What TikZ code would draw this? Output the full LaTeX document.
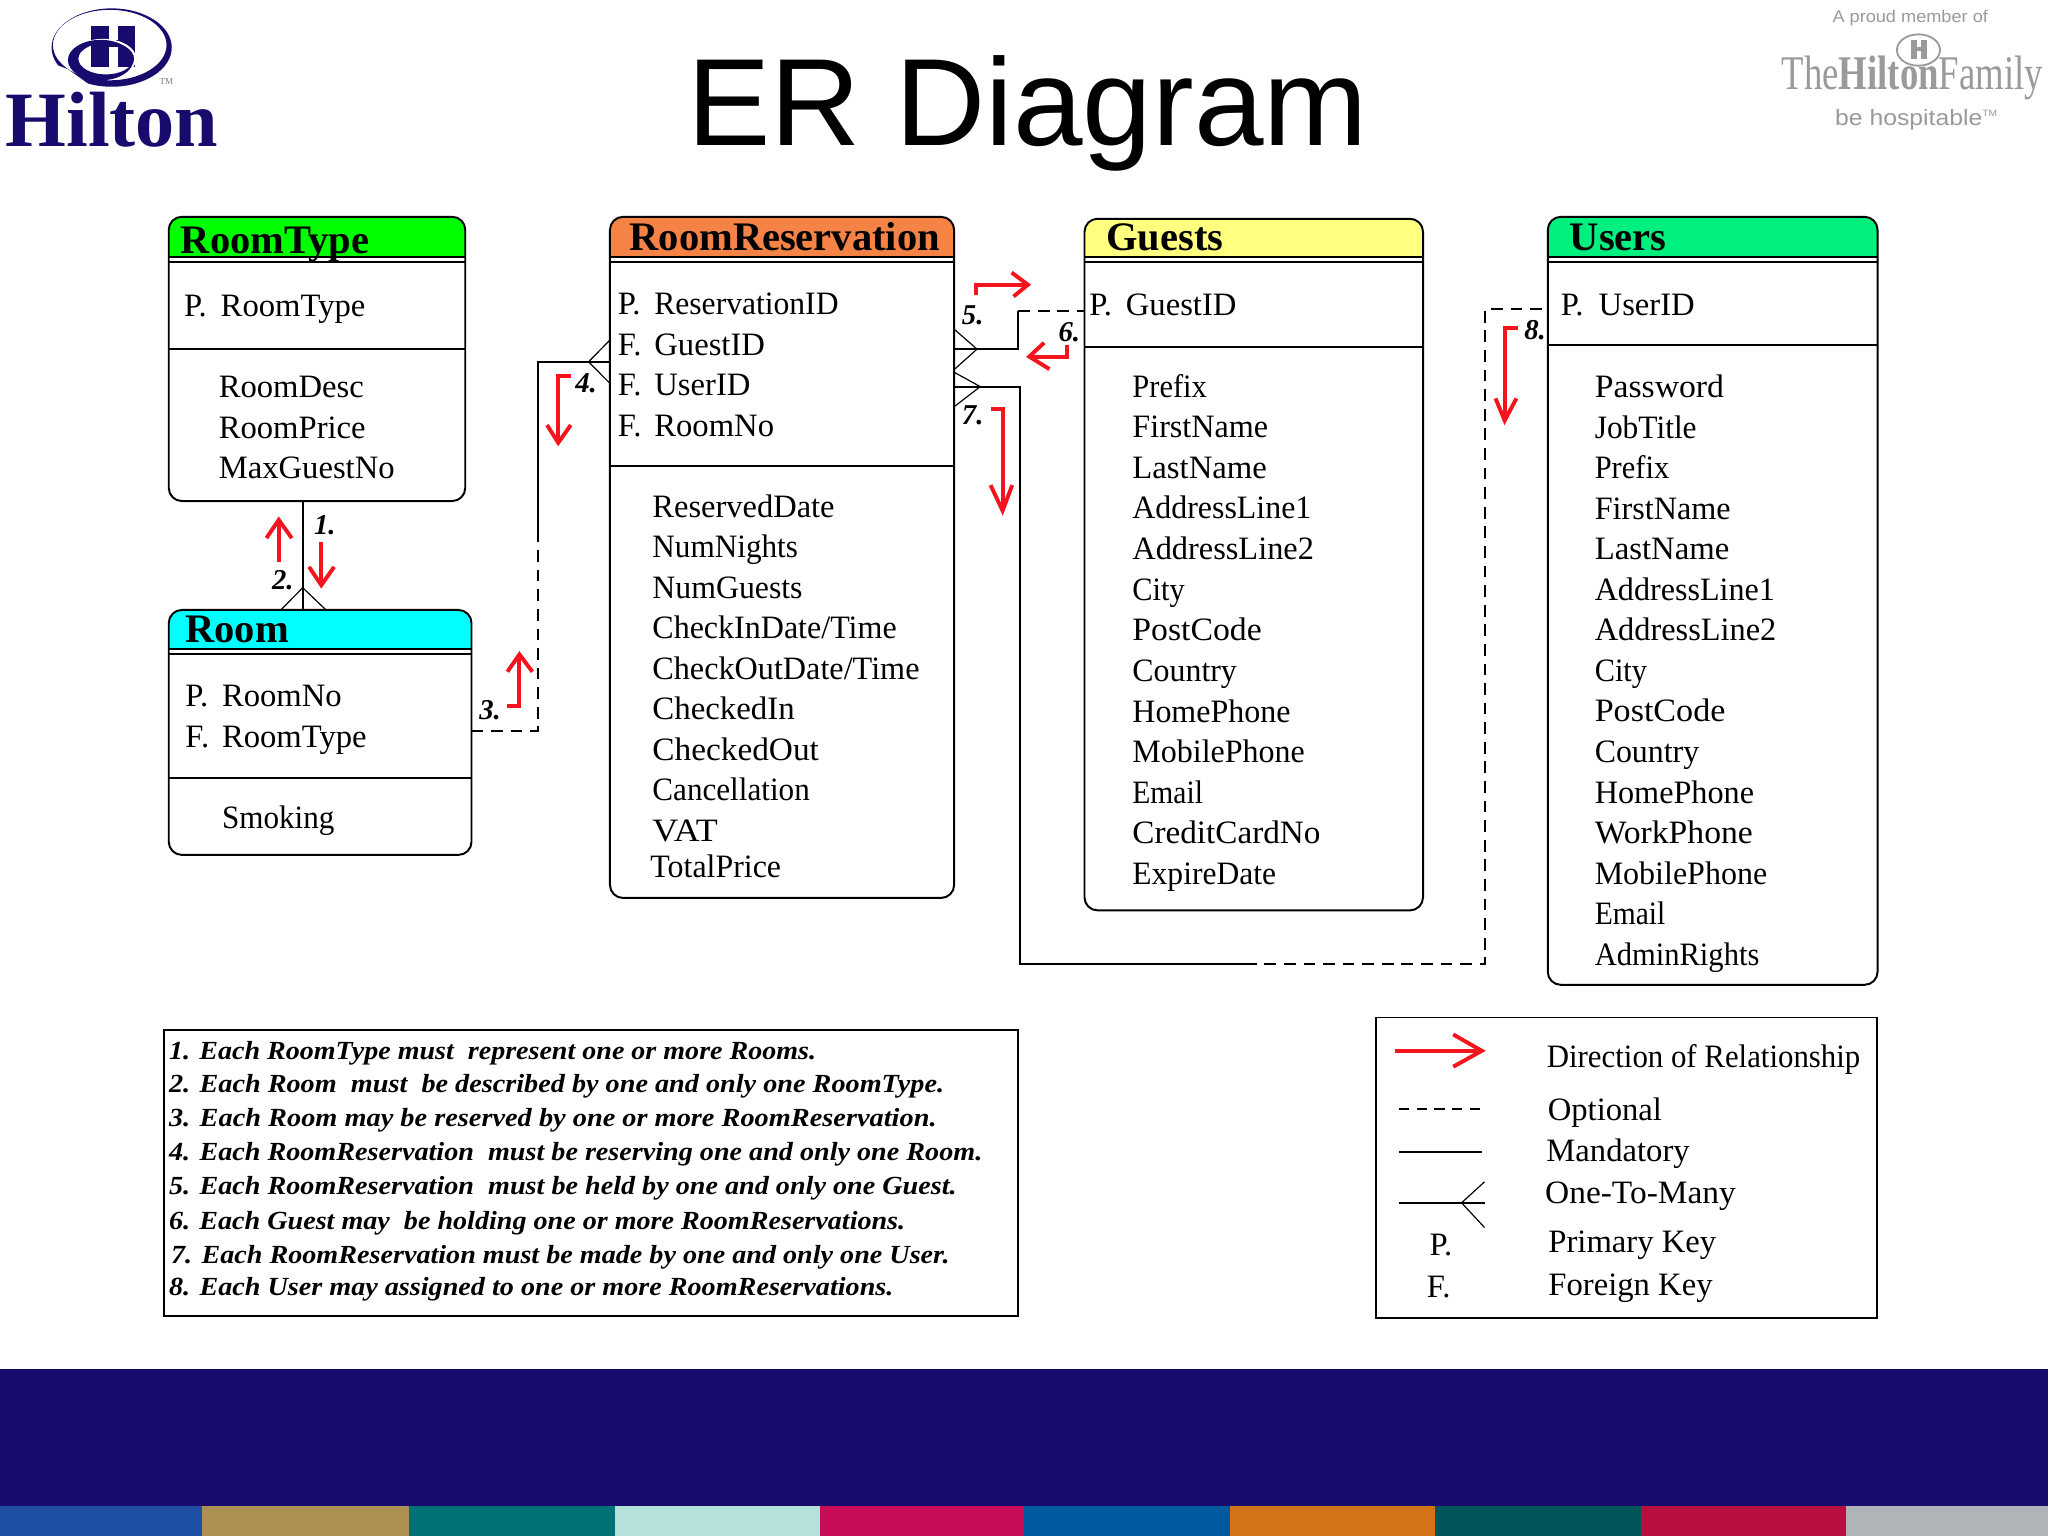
\documentclass[tikz,border=0pt]{standalone}
\usepackage{fontspec}
\usepackage{graphicx}
\setmainfont{Liberation Serif}
\newfontfamily\hsans{Liberation Sans}
\definecolor{navy}{HTML}{170B6E}
\definecolor{hgreen}{HTML}{00FF00}
\definecolor{horange}{HTML}{F58345}
\definecolor{hcyan}{HTML}{00FFFF}
\definecolor{hyellow}{HTML}{FFFF80}
\definecolor{hmint}{HTML}{00F080}
\definecolor{rred}{HTML}{F5141E}
\definecolor{lgray}{HTML}{9A9A9A}
\tikzset{
  attr/.style={anchor=base west,inner sep=0pt,outer sep=0pt,font=\fontsize{25}{25}\selectfont},
  hdr/.style={anchor=base west,inner sep=0pt,outer sep=0pt,font=\fontsize{31}{31}\selectfont\bfseries},
  numlab/.style={anchor=base west,inner sep=0pt,outer sep=0pt,font=\fontsize{22}{22}\selectfont\bfseries\itshape},
  ruletext/.style={anchor=base west,inner sep=0pt,outer sep=0pt,font=\fontsize{20}{20}\selectfont\bfseries\itshape},
  entitybox/.style={draw=black,line width=1.5pt,rounded corners=10pt,inner sep=0pt,outer sep=0pt},
  plainbox/.style={draw=black,line width=1.5pt,inner sep=0pt,outer sep=0pt},
  mand/.style={draw=black,line width=1.4pt},
  optl/.style={draw=black,line width=1.4pt,dash pattern=on 9pt off 6pt},
  crowline/.style={draw=black,line width=0.9pt},
  redline/.style={draw=rred,line width=3pt,line join=miter,miter limit=10},
  divider/.style={draw=black,line width=1.5pt},
  grayt/.style={anchor=base west,inner sep=0pt,outer sep=0pt,text=lgray}
}
\newcounter{tn}
\newcommand{\T}[4]{\stepcounter{tn}\node[#1] (t\arabic{tn}) at (#2,#3) {#4};}
% style, x, baseline, width, text
\newcommand{\W}[5]{\stepcounter{tn}\node[#1] (t\arabic{tn}) at (#2,#3) {\resizebox{#4 pt}{\height}{#5}};}
% name,x1,y1,x2,y2,header bottom,colour
\newcommand{\entity}[7]{%
  \begin{scope}
    \clip[rounded corners=10pt] (#2,#3) rectangle (#4,#5);
    \fill[#7] (#2,#3) rectangle (#4,#6);
  \end{scope}
  \node[entitybox,minimum width={#4pt-#2pt},minimum height={#5pt-#3pt}] (#1) at ({(#2+#4)/2},{(#3+#5)/2}) {};
  \draw[divider] (#2,#6) -- (#4,#6);
  \draw[divider] (#2,#6+3.8) -- (#4,#6+3.8);
}
% name, tail-hook, tail, tip, arm1, arm2
\newcommand{\RA}[6]{%
  \coordinate (#1h) at (#2); \coordinate (#1t) at (#3); \coordinate (#1p) at (#4);
  \coordinate (#1a) at (#5); \coordinate (#1b) at (#6);
  \draw[redline] (#1h) -- (#1t) -- (#1p);
  \draw[redline] (#1a) -- (#1p) -- (#1b);
}
\newcommand{\crow}[4]{%
  \coordinate (#1p) at (#2); \coordinate (#1a) at (#3); \coordinate (#1b) at (#4);
  \draw[crowline] (#1a) -- (#1p) -- (#1b);
}
\begin{document}
\begin{tikzpicture}[x=1pt,y=-1pt]
\useasboundingbox (0,0) rectangle (1568,1176);
\fill[white] (0,0) rectangle (1568,1176);
% bottom band
\fill[navy] (0,1048.5) rectangle (1568,1153);
\foreach \a/\b/\c in {0/155/1F4FA3,155/313/AC9052,313/471/007176,471/628/B4E1D9,628/784/C70B57,784/942/00589F,942/1099/D37218,1099/1256/00555A,1256/1413/B90F40,1413/1568/B0B4B9}{
  \definecolor{stripe}{HTML}{\c}
  \fill[stripe] (\a,1153) rectangle (\b,1176);
}
% title
\W{anchor=base west,inner sep=0pt,font=\fontsize{95}{95}\selectfont\hsans}{526}{111.5}{521}{ER Diagram}
% Hilton logo
\fill[navy,even odd rule] (85.5,36.4) ellipse [x radius=46,y radius=30] (84,34.5) ellipse [x radius=43.5,y radius=27];
\fill[white] (44,50) -- (50,66) -- (70,66) -- (52,53) -- cycle;
\fill[navy] (69.7,20) rectangle (83.8,51);
\fill[navy] (90.6,20) rectangle (103.4,51);
\fill[navy] (83,31) rectangle (91,36);
\draw[white,line width=1.6pt] (79,45) ellipse [x radius=24.5,y radius=14.5];
\fill[navy,even odd rule] (77,46) ellipse [x radius=25,y radius=15.5] (81,45) ellipse [x radius=21,y radius=12];
\T{anchor=base west,inner sep=0pt,text=gray,font=\fontsize{7}{7}\selectfont}{122}{65}{TM}
\W{anchor=base west,inner sep=0pt,text=navy,font=\fontsize{60}{60}\selectfont\bfseries}{4}{111.8}{163}{Hilton}
% Hilton Family logo
\W{grayt,font=\fontsize{13}{13}\selectfont\hsans}{1403}{17.4}{119}{A proud member of}
\W{grayt,font=\fontsize{37}{37}\selectfont}{1364.2}{68.4}{200}{The{\bfseries Hilton}Family}
\W{grayt,font=\fontsize{17}{17}\selectfont\hsans}{1405}{96}{124}{be hospitable\raisebox{.4em}{\fontsize{7}{7}\selectfont TM}}
\draw[lgray,line width=1.4pt] (1468.8,38.3) ellipse [x radius=16.5,y radius=12];
\fill[lgray] (1463,31) rectangle (1467.5,45);
\fill[lgray] (1470.5,31) rectangle (1475,45);
\fill[lgray] (1467,36) rectangle (1471,39);
% entities
\entity{rt}{129.2}{166}{356.2}{383.6}{197}{hgreen}
\draw[divider] (rt.west |- 0,267.5) -- (rt.east |- 0,267.5);
\entity{room}{129.2}{467}{361}{654.5}{497}{hcyan}
\draw[divider] (room.west |- 0,596) -- (room.east |- 0,596);
\entity{rr}{467}{166}{730.5}{687.5}{197}{horange}
\draw[divider] (rr.west |- 0,357) -- (rr.east |- 0,357);
\entity{guests}{830.3}{167.5}{1089.5}{697}{197}{hyellow}
\draw[divider] (guests.west |- 0,266) -- (guests.east |- 0,266);
\entity{users}{1185}{166}{1437.5}{754}{197}{hmint}
\draw[divider] (users.west |- 0,264) -- (users.east |- 0,264);
% headers
\T{hdr}{138.5}{194}{RoomType}
\T{hdr}{142}{492}{Room}
\T{hdr}{482}{192}{RoomReservation}
\T{hdr}{847}{192}{Guests}
\T{hdr}{1202}{192}{Users}
% RoomType attributes
\T{attr}{141}{242.5}{P.}\T{attr}{169}{242.5}{RoomType}
\T{attr}{167.5}{304.4}{RoomDesc}
\T{attr}{167.5}{335.6}{RoomPrice}
\T{attr}{167.5}{366.4}{MaxGuestNo}
% Room attributes
\T{attr}{142}{541}{P.}\T{attr}{170}{541}{RoomNo}
\T{attr}{142}{572}{F.}\T{attr}{170}{572}{RoomType}
\W{attr}{170}{634}{86}{Smoking}
% RoomReservation attributes
\T{attr}{473}{241}{P.}\W{attr}{501}{241}{141}{ReservationID}
\T{attr}{473}{272}{F.}\T{attr}{501}{272}{GuestID}
\T{attr}{473}{303}{F.}\T{attr}{501}{303}{UserID}
\T{attr}{473}{334}{F.}\T{attr}{501}{334}{RoomNo}
\W{attr}{499.5}{396}{139.5}{ReservedDate}
\W{attr}{499.5}{427}{111.5}{NumNights}
\W{attr}{499.5}{458}{115}{NumGuests}
\W{attr}{499.5}{489}{187}{CheckInDate/Time}
\W{attr}{499.5}{520}{204.5}{CheckOutDate/Time}
\W{attr}{499.5}{551}{109}{CheckedIn}
\W{attr}{499.5}{582}{127.5}{CheckedOut}
\W{attr}{499.5}{613}{120.5}{Cancellation}
\W{attr}{499.5}{644}{50}{VAT}
\W{attr}{498}{672}{100}{TotalPrice}
% Guests attributes
\T{attr}{834}{241.7}{P.}\T{attr}{862}{241.7}{GuestID}
\foreach \i/\s/\w in {0/Prefix/57,1/FirstName/104,2/LastName/103,3/AddressLine1/137,4/AddressLine2/139,5/City/40,6/PostCode/99,7/Country/80,8/HomePhone/121,9/MobilePhone/132,10/Email/54,11/CreditCardNo/144,12/ExpireDate/110}{
  \pgfmathsetmacro{\yy}{304+31.1*\i}
  \W{attr}{867}{\yy}{\w}{\s}
}
% Users attributes
\T{attr}{1195}{241.7}{P.}\T{attr}{1224}{241.7}{UserID}
\foreach \i/\s/\w in {0/Password/99,1/JobTitle/78,2/Prefix/57,3/FirstName/104,4/LastName/103,5/AddressLine1/138,6/AddressLine2/139,7/City/40,8/PostCode/100,9/Country/80,10/HomePhone/122,11/WorkPhone/121,12/MobilePhone/132,13/Email/54,14/AdminRights/126}{
  \pgfmathsetmacro{\yy}{304.3+31.05*\i}
  \W{attr}{1221}{\yy}{\w}{\s}
}
% connectors 1,2
\coordinate (c12) at (231.8,420);
\draw[mand] (rt.south -| c12) -- (room.north -| c12);
\crow{k12}{231.8,450}{215,467}{249.6,467}
% connectors 3,4
\coordinate (c34a) at (411.7,559.5);
\coordinate (c34s) at (411.7,412);
\coordinate (c34b) at (411.7,277);
\draw[optl] (room.east |- c34a) -- (c34a) -- (c34s);
\draw[mand] (c34s) -- (c34b) -- (rr.west |- c34b);
\crow{k34}{450.6,277}{467,260.3}{467,293.5}
% connectors 5,6
\coordinate (c56a) at (779.6,267.3);
\coordinate (c56b) at (779.6,238);
\draw[mand] (rr.east |- c56a) -- (c56a) -- (c56b);
\draw[optl] (c56b) -- (guests.west |- c56b);
\crow{k56}{748,267.3}{730.5,252}{730.5,283}
% connectors 7,8
\coordinate (c78a) at (781,296);
\coordinate (c78b) at (781,738);
\coordinate (c78c) at (953,738);
\coordinate (c78d) at (1137,738);
\coordinate (c78e) at (1137,236.6);
\draw[mand] (rr.east |- c78a) -- (c78a) -- (c78b) -- (c78c);
\draw[optl] (c78c) -- (c78d) -- (c78e) -- (users.west |- c78e);
\crow{k78}{750.5,296}{730.5,285}{730.5,311.4}
% labels
\T{numlab}{240.5}{409}{1.}
\T{numlab}{208.3}{451}{2.}
\T{numlab}{367}{551}{3.}
\T{numlab}{440.5}{300.8}{4.}
\T{numlab}{736.5}{248.8}{5.}
\T{numlab}{810.5}{261.2}{6.}
\T{numlab}{736.5}{325.2}{7.}
\T{numlab}{1167}{259.7}{8.}
% red arrows
\RA{ra1}{213.4,430}{213.4,430}{213.4,398}{204,412}{223.4,412}
\RA{ra2}{246,415}{246,415}{246,448}{236.6,434}{255.8,434}
\RA{ra3}{388.5,540.3}{397.7,540.3}{397.7,501}{388.5,514.3}{407.6,514.3}
\RA{ra4}{437,288}{427.4,288}{427.4,339}{418.8,325.4}{437,325.4}
\RA{ra5}{747,226}{747,218}{787,218}{774.5,208.6}{776,227}
\RA{ra6}{817,264}{817,273}{788,273}{799.4,262.4}{803.5,282.6}
\RA{ra7}{759,313}{767.6,313}{767.6,391}{758.4,371.4}{775,371.4}
\RA{ra8}{1162.5,251.4}{1152,251.4}{1152,322}{1145,305}{1161,305}
% rules box
\node[plainbox,minimum width=653.6pt,minimum height=219pt] (rules) at (452.7,898.2) {};
\W{ruletext}{129.4}{810.9}{495.4}{1. Each RoomType must\ \ represent one or more Rooms.}
\W{ruletext}{129.4}{836.4}{593.4}{2. Each Room\ \ must\ \ be described by one and only one RoomType.}
\W{ruletext}{129.4}{862.7}{587.6}{3. Each Room may be reserved by one or more RoomReservation.}
\W{ruletext}{129.4}{888.8}{622.6}{4. Each RoomReservation\ \ must be reserving one and only one Room.}
\W{ruletext}{129.4}{914.5}{603}{5. Each RoomReservation\ \ must be held by one and only one Guest.}
\W{ruletext}{129.4}{941}{563.6}{6. Each Guest may\ \ be holding one or more RoomReservations.}
\W{ruletext}{131}{967.4}{596}{7. Each RoomReservation must be made by one and only one User.}
\W{ruletext}{129.4}{992.1}{554.6}{8. Each User may assigned to one or more RoomReservations.}
% legend box
\node[plainbox,minimum width=383.2pt,minimum height=230.4pt] (legend) at (1245.2,894.2) {};
\RA{lg}{1068,804.5}{1068,804.5}{1134.5,804.5}{1112.6,792}{1112.6,816.7}
\coordinate (la1) at (1071,849); \coordinate (la2) at (1133.3,849);
\draw[draw=black,line width=1.2pt,dash pattern=on 7.8pt off 5.8pt] (la1) -- (la2);
\coordinate (lb1) at (1071,881.8); \coordinate (lb2) at (1134.6,881.8);
\draw[mand] (lb1) -- (lb2);
\coordinate (lc1) at (1071,920.9); \coordinate (lc2) at (1136.6,920.9);
\draw[mand] (lc1) -- (lc2);
\crow{k}{1119,920.9}{1136.6,904.8}{1136.6,939.8}
\W{attr}{1184.3}{817.5}{240}{Direction of Relationship}
\T{attr}{1185}{857.6}{Optional}
\T{attr}{1184}{889}{Mandatory}
\W{attr}{1183}{921.4}{146}{One-To-Many}
\T{attr}{1185.5}{959}{Primary Key}
\T{attr}{1185.5}{991.6}{Foreign Key}
\T{attr}{1094.5}{961}{P.}
\T{attr}{1092.4}{993.6}{F.}
\end{tikzpicture}
\end{document}
